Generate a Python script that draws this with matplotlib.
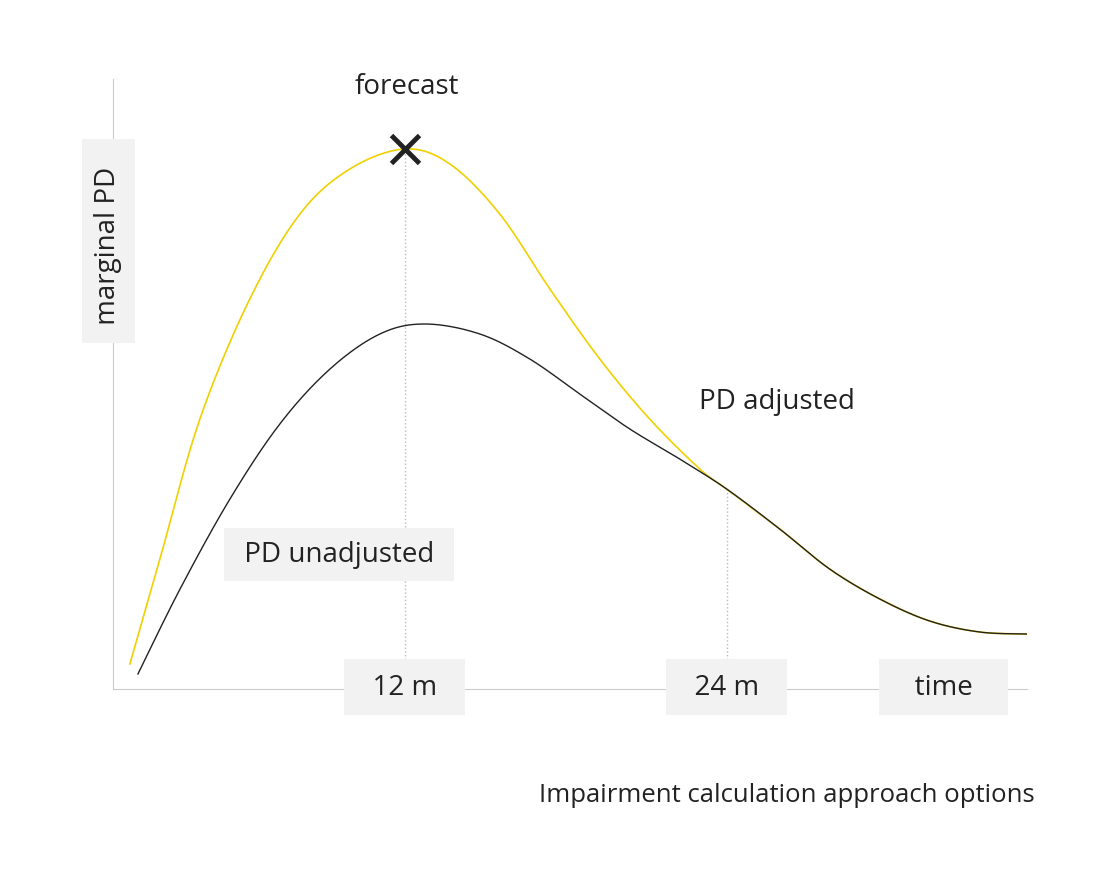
import numpy as np
import matplotlib.pyplot as plt

plt.rcParams['font.family'] = ['Open Sans', 'DejaVu Sans']

# values (x in months, y in arbitrary PD units)
adj_m = [1.75, 2.87, 4.36, 6.22, 8.09, 9.95, 12.0, 13.68, 15.54, 17.41, 19.27, 21.13, 23.0, 24.0,
         25.98, 27.84, 29.71, 31.57, 33.43, 35.18]
adj_v = [25, 130, 270, 390, 475, 520, 540, 525, 475, 400, 330, 270, 220, 200,
         160, 120, 90, 68, 57, 55]
unadj_m = [2.05, 3.62, 5.48, 7.34, 9.21, 11.07, 12.75, 14.80, 16.66, 18.52, 20.39, 22.25, 24.0,
           25.98, 27.84, 29.71, 31.57, 33.43, 35.18]
unadj_v = [15, 100, 190, 265, 320, 355, 365, 355, 330, 295, 260, 230, 200,
           160, 120, 90, 68, 57, 55]
ticks = [12, 24]
tick_labels = ['12 m', '24 m']


def smooth(x, y, n=30):
    # catmull-rom through the read points, only for drawing
    p = np.column_stack([x, y]).astype(float)
    p = np.vstack([p[0], p, p[-1]])
    out = []
    t = np.linspace(0, 1, n)[:, None]
    for i in range(1, len(p) - 2):
        p0, p1, p2, p3 = p[i - 1], p[i], p[i + 1], p[i + 2]
        seg = 0.5 * ((2 * p1) + (-p0 + p2) * t + (2 * p0 - 5 * p1 + 4 * p2 - p3) * t**2
                     + (-p0 + 3 * p1 - 3 * p2 + p3) * t**3)
        out.append(seg)
    s = np.vstack(out)
    return s[:, 0], s[:, 1]


fig = plt.figure(figsize=(11, 8.7), dpi=100)
ax = fig.add_axes([113/1100, 180/870, 914/1100, 610/870])
ax.set_xlim(1.12, 35.2)
ax.set_ylim(0, 610)
for s in ['top', 'right']:
    ax.spines[s].set_visible(False)
for s in ['left', 'bottom']:
    ax.spines[s].set_color('#cccccc')
ax.set_xticks([])
ax.set_yticks([])

box = dict(boxstyle='square,pad=0.45', fc='#f2f2f2', ec='none')
tbox = dict(boxstyle='square,pad=0.5', fc='#f2f2f2', ec='none')

ax.plot([12, 12], [0, 540], ls=':', color='#bbbbbb', lw=1)
ax.plot([24, 24], [0, 200], ls=':', color='#bbbbbb', lw=1)

x, y = smooth(adj_m, adj_v)
ax.plot(x, y, color='#f0d000', lw=1.2)
x, y = smooth(unadj_m, unadj_v)
ax.plot(x, y, color='#222222', lw=1)

ax.plot(12, 540, marker='x', ms=20, mew=3.5, color='#222222')

for t, lab in zip(ticks, tick_labels):
    ax.text(t, 2, '  ' + lab + '  ', ha='center', va='center', fontsize=20, color='#222222', bbox=tbox)
ax.text(32.1, 2, '   time   ', ha='center', va='center', fontsize=20, color='#222222', bbox=tbox)

fig.text(108/1100, 1 - 242/870, ' marginal PD  ', rotation=90, ha='center', va='center',
         fontsize=20, color='#222222', bbox=box)
fig.text(339/1100, 1 - 555/870, ' PD unadjusted ', ha='center', va='center',
         fontsize=20, color='#222222', fontweight='medium', bbox=box)
fig.text(777/1100, 1 - 402/870, 'PD adjusted', ha='center', va='center',
         fontsize=20, color='#222222', fontweight='medium')
fig.text(407/1100, 1 - 87/870, 'forecast', ha='center', va='center',
         fontsize=20, color='#222222', fontweight='medium')
fig.text(1035/1100, 1 - 795/870, 'Impairment calculation approach options', ha='right',
         va='center', fontsize=18.5, color='#222222')

fig.savefig('out.png', dpi=100, facecolor='white')
